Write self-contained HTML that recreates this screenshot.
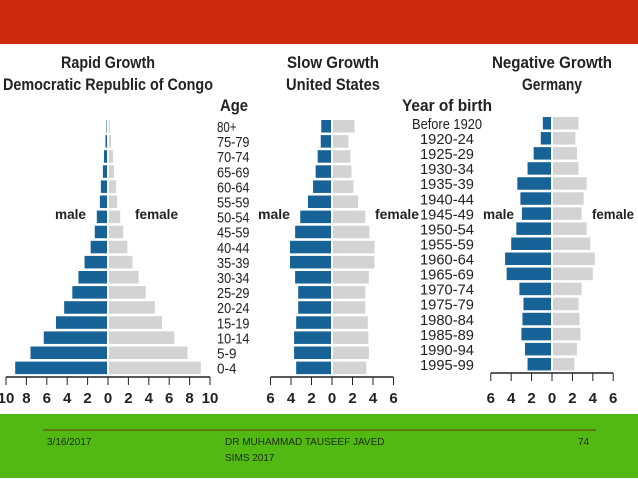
<!DOCTYPE html>
<html><head><meta charset="utf-8"><style>
html,body{margin:0;padding:0;background:#fff;}
svg{display:block;font-family:"Liberation Sans",sans-serif;}
</style></head><body>
<svg id="root" width="638" height="479" viewBox="0 0 638 479">
<rect x="0" y="0" width="638" height="44" fill="#cc2a0c"/>
<rect x="0" y="414" width="638" height="64" fill="#52b812"/>
<line x1="43" y1="430" x2="596" y2="430" stroke="#6b3a10" stroke-width="1"/>
<text x="47" y="445" font-size="10" fill="#1d2d10">3/16/2017</text>
<text x="225" y="445" font-size="10" fill="#1d2d10">DR MUHAMMAD TAUSEEF JAVED</text>
<text x="225" y="461" font-size="10" fill="#1d2d10">SIMS 2017</text>
<text x="578" y="445" font-size="10" fill="#1d2d10">74</text>

<g font-weight="bold" fill="#222" font-size="17">
<text x="108" y="68" text-anchor="middle" textLength="94" lengthAdjust="spacingAndGlyphs">Rapid Growth</text>
<text x="108" y="90" text-anchor="middle" textLength="210" lengthAdjust="spacingAndGlyphs">Democratic Republic of Congo</text>
<text x="333" y="68" text-anchor="middle" textLength="92" lengthAdjust="spacingAndGlyphs">Slow Growth</text>
<text x="333" y="90" text-anchor="middle" textLength="94" lengthAdjust="spacingAndGlyphs">United States</text>
<text x="552" y="68" text-anchor="middle" textLength="120" lengthAdjust="spacingAndGlyphs">Negative Growth</text>
<text x="552" y="90" text-anchor="middle" textLength="60" lengthAdjust="spacingAndGlyphs">Germany</text>
<text x="234" y="111" text-anchor="middle" textLength="28" lengthAdjust="spacingAndGlyphs">Age</text>
<text x="447" y="111" text-anchor="middle" textLength="90" lengthAdjust="spacingAndGlyphs">Year of birth</text>
</g>
<g font-weight="bold" fill="#222" font-size="14">
<text x="55" y="219" textLength="31" lengthAdjust="spacingAndGlyphs">male</text>
<text x="135" y="219" textLength="43" lengthAdjust="spacingAndGlyphs">female</text>
<text x="258" y="219" textLength="32" lengthAdjust="spacingAndGlyphs">male</text>
<text x="375" y="219" textLength="44" lengthAdjust="spacingAndGlyphs">female</text>
<text x="483" y="219" textLength="31" lengthAdjust="spacingAndGlyphs">male</text>
<text x="592" y="219" textLength="42" lengthAdjust="spacingAndGlyphs">female</text>
</g>
<g id="charts"></g>
</svg>
<script>
const ageLabels = ["80+","75-79","70-74","65-69","60-64","55-59","50-54","45-59","40-44","35-39","30-34","25-29","20-24","15-19","10-14","5-9","0-4"];
const yearLabels = ["Before 1920","1920-24","1925-29","1930-34","1935-39","1940-44","1945-49","1950-54","1955-59","1960-64","1965-69","1970-74","1975-79","1980-84","1985-89","1990-94","1995-99"];
const congoMale = [0.05,0.15,0.3,0.4,0.6,0.7,1.0,1.2,1.6,2.2,2.8,3.4,4.2,5.0,6.2,7.5,9.0];
const congoFemale = [0.1,0.2,0.4,0.5,0.7,0.8,1.1,1.4,1.8,2.3,2.9,3.6,4.5,5.2,6.4,7.7,9.0];
const usMale = [0.95,1.0,1.3,1.5,1.75,2.25,3.0,3.5,4.0,4.0,3.5,3.2,3.2,3.4,3.6,3.6,3.4];
const usFemale = [2.1,1.5,1.7,1.8,2.0,2.45,3.15,3.55,4.05,4.05,3.5,3.15,3.15,3.4,3.45,3.5,3.25];
const deMale = [0.8,1.0,1.7,2.3,3.3,3.0,2.85,3.4,3.9,4.5,4.35,3.1,2.7,2.8,2.9,2.55,2.3];
const deFemale = [2.5,2.2,2.35,2.5,3.3,3.0,2.8,3.3,3.65,4.1,3.9,2.8,2.5,2.6,2.7,2.35,2.1];
const congoTicks = [10,8,6,4,2,0,2,4,6,8,10];
const smallTicks = [6,4,2,0,2,4,6];

const NS = "http://www.w3.org/2000/svg";
const root = document.getElementById("charts");
function mk(tag, attrs){ const e=document.createElementNS(NS,tag); for(const k in attrs) e.setAttribute(k,attrs[k]); return e; }

function pyramid(key, cx, unit, rowTop, pitch, axisY, male, female, ticks){
  const g = mk("g",{});
  
  
  const bh = pitch*0.83;
  const xs = v => v*unit;
  male.forEach((v,i)=>{
    const r = mk("rect",{x:cx-1-xs(v), y:rowTop+i*pitch, width:xs(v), height:bh, fill:"#176397"});
    
    
    g.appendChild(r);
  });
  female.forEach((v,i)=>{
    const r = mk("rect",{x:cx+1, y:rowTop+i*pitch, width:xs(v), height:bh, fill:"#d3d3d3"});
    
    
    g.appendChild(r);
  });
  const maxT = ticks[0];
  const ax = mk("line",{x1:cx-xs(maxT), x2:cx+xs(maxT), y1:axisY, y2:axisY, stroke:"#222","stroke-width":1.5});
  
  
  g.appendChild(ax);
  const half = (ticks.length-1)/2;
  ticks.forEach((t,i)=>{
    const x = cx + (i<half ? -1 : 1)*xs(t);
    const tk = mk("line",{x1:x,x2:x,y1:axisY,y2:axisY+8,stroke:"#222","stroke-width":1});
    
    
    g.appendChild(tk);
    const tl = mk("text",{x:x,y:403,"text-anchor":"middle","font-size":15,"font-weight":"bold",fill:"#222"});
    tl.textContent = t;
    
    
    g.appendChild(tl);
  });
  root.appendChild(g);
}
pyramid("congo",108,10.2,120,15.1,377,congoMale,congoFemale,congoTicks);
pyramid("us",332,10.25,120,15.1,377,usMale,usFemale,smallTicks);
pyramid("germany",552,10.2,117,15.06,373,deMale,deFemale,smallTicks);

function labels(list, x, anchor, rowTop, pitch, key, len){
  list.forEach((s,i)=>{
    const t = mk("text",{x:x, y:rowTop+i*pitch+11, "text-anchor":anchor, "font-size":15, fill:"#222"});
    t.setAttribute("textLength", len(s));
    t.setAttribute("lengthAdjust","spacingAndGlyphs");
    t.textContent = s;
    
    
    root.appendChild(t);
  });
}
labels(ageLabels, 217, "start", 121, 15.1, "age-label", s=>s.length*6.5);
labels(yearLabels, 447, "middle", 118, 15.06, "year-label", s=>s.length>8?70:54);
</script>
</body></html>
